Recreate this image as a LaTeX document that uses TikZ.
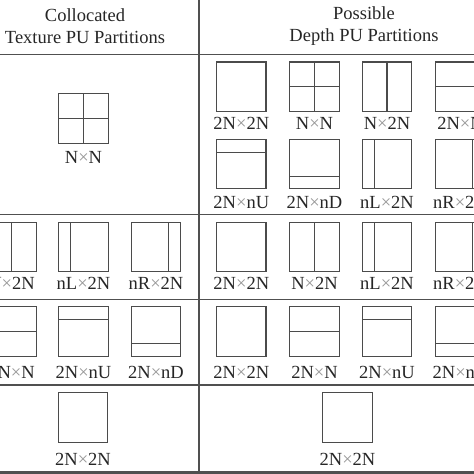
\documentclass[tikz,border=0pt]{standalone}
\usepackage{fontspec}
\setmainfont{Liberation Serif}
\usepackage{tikz}
\usepackage{xcolor}
\definecolor{rulegray}{RGB}{80,80,80}
\definecolor{boxgray}{RGB}{75,75,75}
\definecolor{crossgray}{RGB}{150,150,150}
\newcommand{\pux}{\textcolor{crossgray}{×}}

\begin{document}
\begin{tikzpicture}[x=1pt,y=-1pt,
    pu/.style={draw=boxgray,line width=1.2pt,minimum size=49.5pt,inner sep=0pt},
    splitV/.style={pu,path picture={\draw[boxgray,line width=1.2pt] (path picture bounding box.north) -- (path picture bounding box.south);}},
    splitH/.style={pu,path picture={\draw[boxgray,line width=1.2pt] (path picture bounding box.west) -- (path picture bounding box.east);}},
    splitQ/.style={pu,path picture={\draw[boxgray,line width=1.2pt] (path picture bounding box.north) -- (path picture bounding box.south)
        (path picture bounding box.west) -- (path picture bounding box.east);}},
    splitU/.style={pu,path picture={\draw[boxgray,line width=1.2pt] ([yshift=-13pt]path picture bounding box.north west) -- ([yshift=-13pt]path picture bounding box.north east);}},
    splitD/.style={pu,path picture={\draw[boxgray,line width=1.2pt] ([yshift=12.5pt]path picture bounding box.south west) -- ([yshift=12.5pt]path picture bounding box.south east);}},
    splitL/.style={pu,path picture={\draw[boxgray,line width=1.2pt] ([xshift=12pt]path picture bounding box.north west) -- ([xshift=12pt]path picture bounding box.south west);}},
    splitR/.style={pu,path picture={\draw[boxgray,line width=1.2pt] ([xshift=-12.5pt]path picture bounding box.north east) -- ([xshift=-12.5pt]path picture bounding box.south east);}},
    lab/.style={inner sep=0pt,text=black!85,font=\fontsize{18.5}{22}\selectfont},
    rule/.style={draw=rulegray,line width=1.1pt}]
    \useasboundingbox (0,0) rectangle (474,474);

    % table rules
    \draw[rule] (199,0) -- (199,472);
    \draw[rule] (0,54.5) -- (474,54.5);
    \draw[rule] (0,214.5) -- (474,214.5);
    \draw[rule] (0,299.5) -- (474,299.5);
    \draw[rule] (0,385) -- (474,385);
    \draw[rule,line width=3pt] (0,472) -- (474,472);

    % headings
    \node[lab,align=center] (texhead) at (85,26) {Collocated\\Texture PU Partitions};
    \node[lab,align=center] (dephead) at (364,26) {Possible\\Depth PU Partitions};

    % row 1
    \node[splitQ] (tex1) at (83.5,118.5) {};
    \node[lab] (tex1l) at (83.5,157) {N\pux N};

    \node[pu] (dep1) at (241.3,86.7) {};
    \node[splitQ] (dep2) at (314.5,86.7) {};
    \node[splitV] (dep3) at (387,86.7) {};
    \node[splitH] (dep4) at (460.5,86.7) {};
    \node[lab] (dep1l) at (241.3,123) {2N\pux 2N};
    \node[lab] (dep2l) at (314.5,123) {N\pux N};
    \node[lab] (dep3l) at (387,123) {N\pux 2N};
    \node[lab] (dep4l) at (460.5,123) {2N\pux N};

    \node[splitU] (dep5) at (241.3,164) {};
    \node[splitD] (dep6) at (314.5,164) {};
    \node[splitL] (dep7) at (387,164) {};
    \node[splitR] (dep8) at (460.5,164) {};
    \node[lab] (dep5l) at (241.3,202) {2N\pux nU};
    \node[lab] (dep6l) at (314.5,202) {2N\pux nD};
    \node[lab] (dep7l) at (387,202) {nL\pux 2N};
    \node[lab] (dep8l) at (460.5,202) {nR\pux 2N};

    % row 2
    \node[splitV] (tex2) at (11.5,247) {};
    \node[splitL] (tex3) at (83.5,247) {};
    \node[splitR] (tex4) at (156,247) {};
    \node[lab] (tex2l) at (11.5,283) {N\pux 2N};
    \node[lab] (tex3l) at (83.5,283) {nL\pux 2N};
    \node[lab] (tex4l) at (156,283) {nR\pux 2N};

    \node[pu] (dep9) at (241.3,247) {};
    \node[splitV] (dep10) at (314.5,247) {};
    \node[splitL] (dep11) at (387,247) {};
    \node[splitR] (dep12) at (460.5,247) {};
    \node[lab] (dep9l) at (241.3,283) {2N\pux 2N};
    \node[lab] (dep10l) at (314.5,283) {N\pux 2N};
    \node[lab] (dep11l) at (387,283) {nL\pux 2N};
    \node[lab] (dep12l) at (460.5,283) {nR\pux 2N};

    % row 3
    \node[splitH] (tex5) at (11.5,331.5) {};
    \node[splitU] (tex6) at (83.5,331.5) {};
    \node[splitD] (tex7) at (156,331.5) {};
    \node[lab] (tex5l) at (11.5,372) {2N\pux N};
    \node[lab] (tex6l) at (83.5,372) {2N\pux nU};
    \node[lab] (tex7l) at (156,372) {2N\pux nD};

    \node[pu] (dep13) at (241.3,331.5) {};
    \node[splitH] (dep14) at (314.5,331.5) {};
    \node[splitU] (dep15) at (387,331.5) {};
    \node[splitD] (dep16) at (460.5,331.5) {};
    \node[lab] (dep13l) at (241.3,372) {2N\pux 2N};
    \node[lab] (dep14l) at (314.5,372) {2N\pux N};
    \node[lab] (dep15l) at (387,372) {2N\pux nU};
    \node[lab] (dep16l) at (460.5,372) {2N\pux nD};

    % row 4
    \node[pu] (tex8) at (83,417.5) {};
    \node[lab] (tex8l) at (83,459) {2N\pux 2N};
    \node[pu] (dep17) at (347.5,417.5) {};
    \node[lab] (dep17l) at (347.5,459) {2N\pux 2N};
\end{tikzpicture}
\end{document}
